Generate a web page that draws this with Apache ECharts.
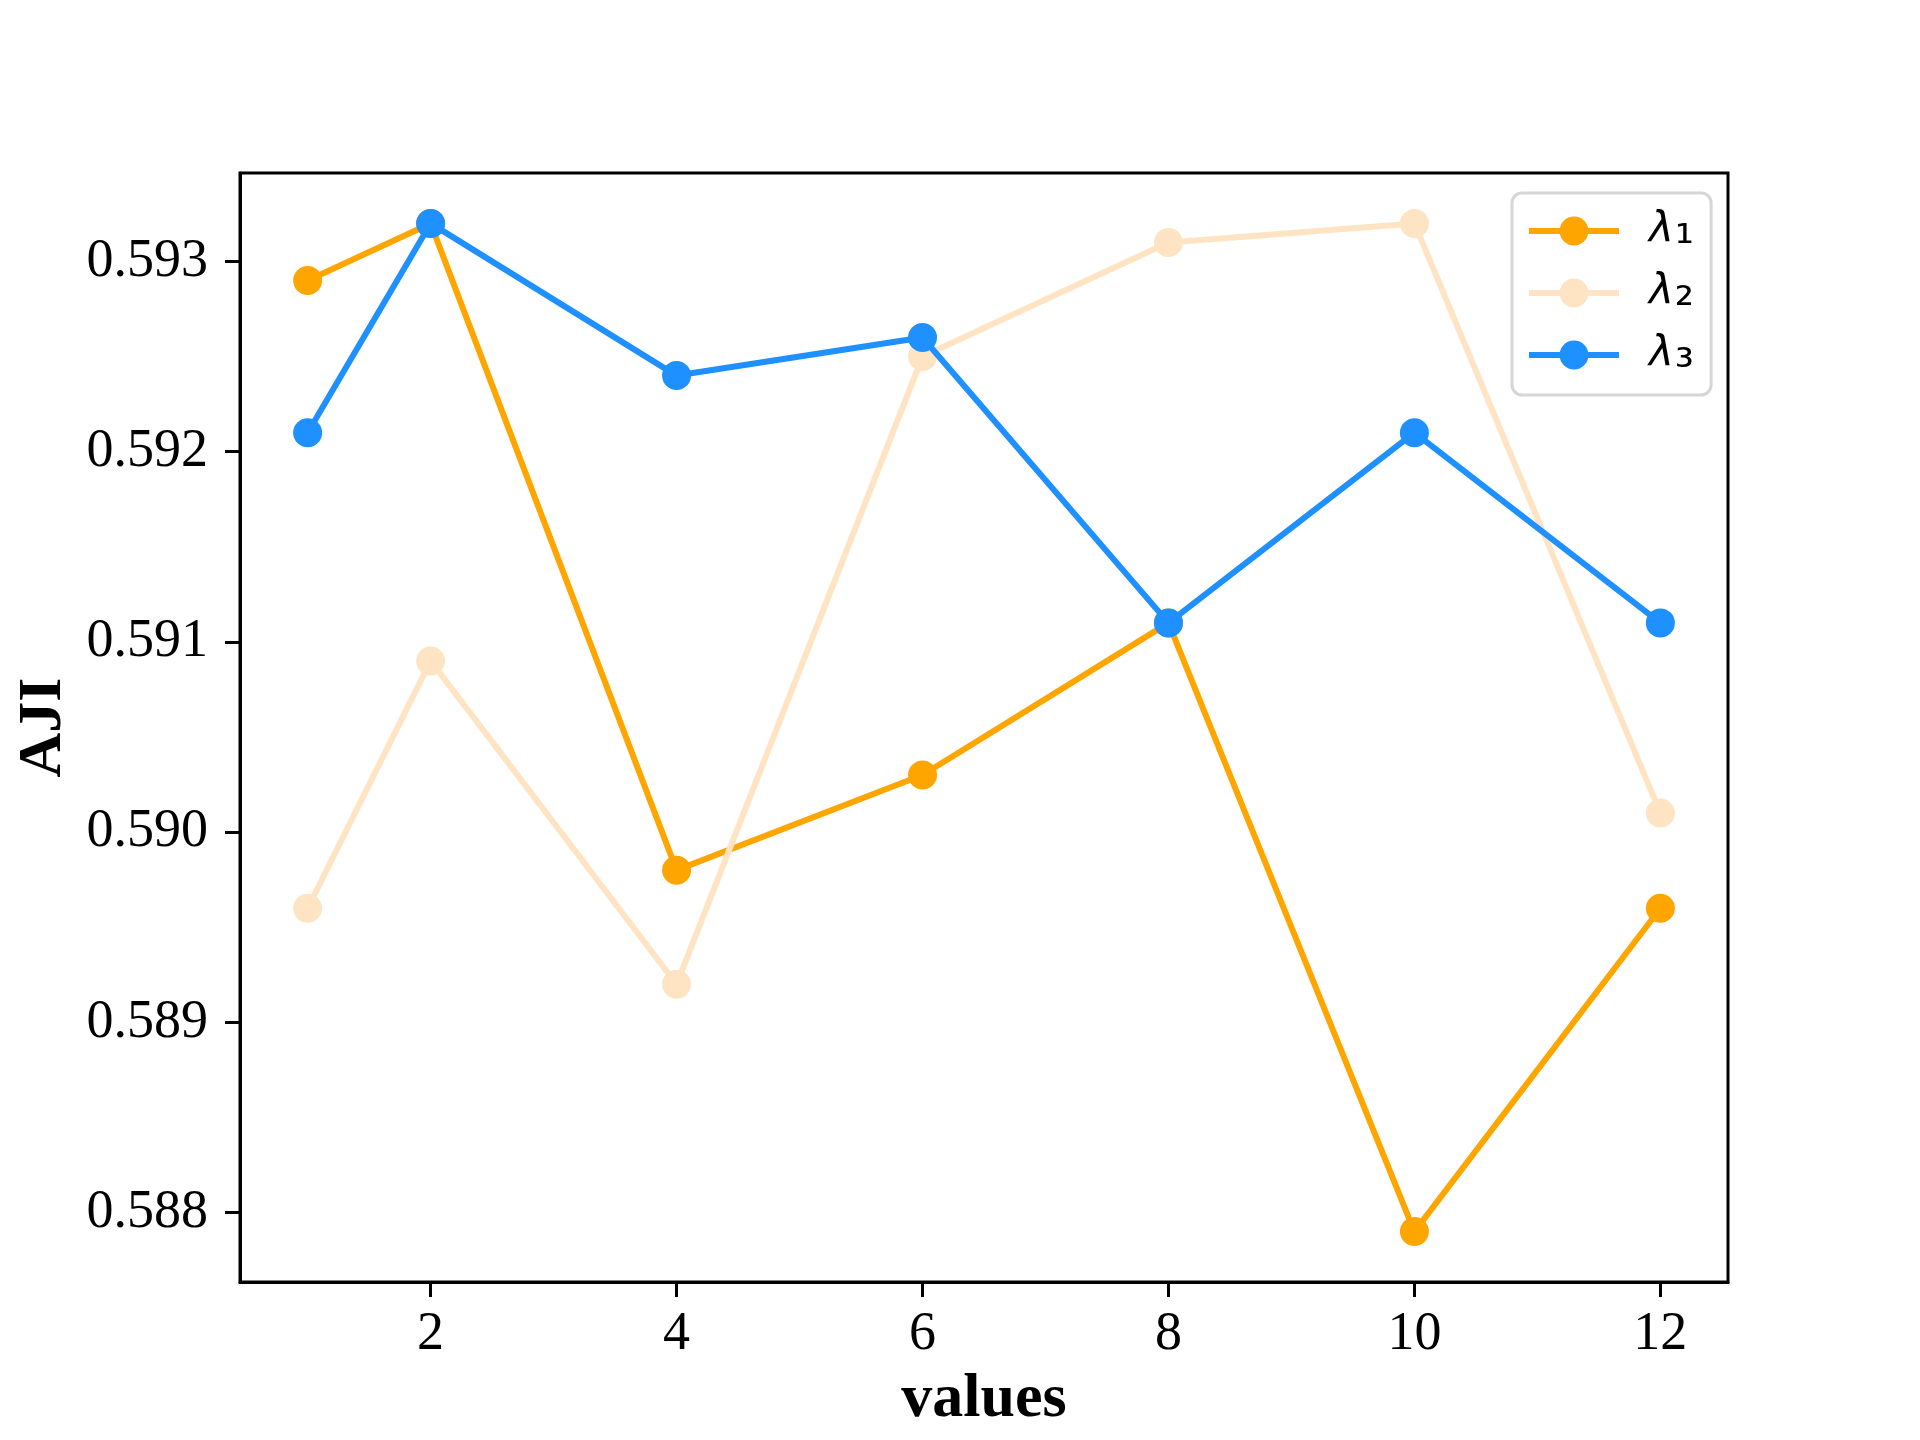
<!DOCTYPE html>
<html>
<head>
<meta charset="utf-8">
<script src="https://cdn.jsdelivr.net/npm/echarts@6/dist/echarts.min.js"></script>
<style>
html,body{margin:0;padding:0;background:#fff;}
#chart{width:1920px;height:1440px;}
</style>
</head>
<body>
<div id="chart"></div>
<script>
const xValues = [1, 2, 4, 6, 8, 10, 12];
const lambda1 = [0.5929, 0.5932, 0.5898, 0.5903, 0.5911, 0.5879, 0.5896];
const lambda2 = [0.5896, 0.5909, 0.5892, 0.5925, 0.5931, 0.5932, 0.5901];
const lambda3 = [0.5921, 0.5932, 0.5924, 0.5926, 0.5911, 0.5921, 0.5911];
const seriesNames = ['λ₁', 'λ₂', 'λ₃'];
const seriesColors = ['#FFA500', '#FFE4C4', '#1E90FF'];
const xTicks = [2, 4, 6, 8, 10, 12];
const yTicks = [0.588, 0.589, 0.590, 0.591, 0.592, 0.593];

const allY = lambda1.concat(lambda2, lambda3);
const yMinD = Math.min(...allY), yMaxD = Math.max(...allY);
const yPad = (yMaxD - yMinD) * 0.05;
const xMinD = Math.min(...xValues), xMaxD = Math.max(...xValues);
const xPad = (xMaxD - xMinD) * 0.05;

const chart = echarts.init(document.getElementById('chart'));
const serif = 'Liberation Serif, Times New Roman, serif';
const datasets = [lambda1, lambda2, lambda3];

chart.setOption({
  backgroundColor: '#ffffff',
  animation: false,
  grid: {left: 240, right: 192, top: 173, bottom: 158, show: true, borderColor: '#000', borderWidth: 3,
    backgroundColor: 'transparent', containLabel: false, outerBoundsMode: 'none'},
  xAxis: {
    type: 'value', min: xMinD - xPad, max: xMaxD + xPad,
    name: 'values', nameLocation: 'middle', nameGap: 87,
    nameTextStyle: {fontFamily: serif, fontWeight: 'bold', fontSize: 62, color: '#000'},
    axisLine: {show: true, onZero: false, lineStyle: {color: '#000', width: 3}},
    axisTick: {show: true, inside: false, length: 15, lineStyle: {color: '#000', width: 3}, customValues: xTicks},
    axisLabel: {fontFamily: serif, fontSize: 54, color: '#000', margin: 26, customValues: xTicks},
    splitLine: {show: false}
  },
  yAxis: {
    type: 'value', min: yMinD - yPad, max: yMaxD + yPad,
    name: 'AJI', nameLocation: 'middle', nameGap: 165, nameRotate: 90,
    nameTextStyle: {fontFamily: serif, fontWeight: 'bold', fontSize: 62, color: '#000'},
    axisLine: {show: true, onZero: false, lineStyle: {color: '#000', width: 3}},
    axisTick: {show: true, inside: false, length: 15, lineStyle: {color: '#000', width: 3}, customValues: yTicks},
    axisLabel: {fontFamily: serif, fontSize: 54, color: '#000', margin: 32, customValues: yTicks,
      formatter: v => v.toFixed(3)},
    splitLine: {show: false}
  },
  legend: {
    show: true, orient: 'vertical', left: 1512, top: 193,
    padding: [14, 17, 16, 14],
    itemWidth: 90, itemHeight: 36, itemGap: 14,
    backgroundColor: '#fff', borderColor: '#d6d6d6', borderWidth: 3, borderRadius: 10,
    data: seriesNames,
    lineStyle: {width: 6},
    formatter: name => '{l|' + name.charAt(0) + '}{s|' + name.slice(1) + '}',
    textStyle: {
      lineHeight: 36,
      rich: {
        l: {fontFamily: 'DejaVu Sans', fontStyle: 'italic', fontSize: 42, color: '#000', lineHeight: 36, padding: [0, 0, 0, 25]},
        s: {fontFamily: 'DejaVu Sans', fontStyle: 'normal', fontSize: 48, color: '#000', lineHeight: 36, padding: [0, 0, 0, 1]}
      }
    }
  },
  series: datasets.map((d, i) => ({
    name: seriesNames[i], type: 'line',
    data: xValues.map((x, j) => [x, d[j]]),
    symbol: 'circle', symbolSize: 29, showSymbol: true,
    lineStyle: {color: seriesColors[i], width: 6},
    itemStyle: {color: seriesColors[i], borderWidth: 0},
    z: 2 + i
  }))
});
</script>
</body>
</html>
